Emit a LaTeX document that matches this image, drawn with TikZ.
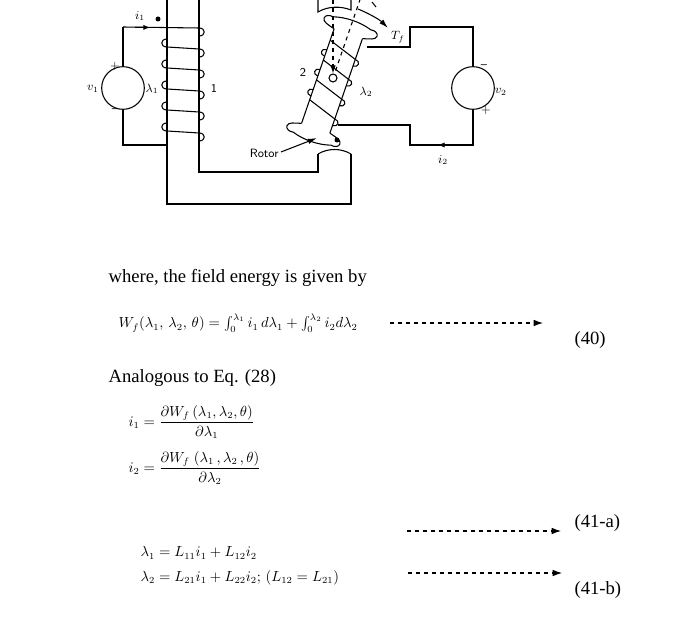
\documentclass[tikz,border=0pt]{standalone}
\usepackage{fontspec}
\setmainfont{Liberation Serif}
\usetikzlibrary{arrows.meta}
\begin{document}
\begin{tikzpicture}[x=0.75pt,y=-0.75pt,line width=0.8pt,
  lbl/.style={font=\fontsize{9}{10}\selectfont\sffamily,inner sep=0pt},
  big/.style={font=\fontsize{14}{16}\selectfont,anchor=west,inner sep=0pt},
  eq/.style={font=\fontsize{10.5}{12}\selectfont,anchor=west,inner sep=0pt},
  darr/.style={dashed,-{Latex[length=7pt,width=5pt]},line width=0.8pt},
  wire/.style={line width=0.8pt}]
\useasboundingbox (0,0) rectangle (679,630);
% stator core
\draw[wire] (167,0) -- (167,204) -- (351,204) -- (351,154);
\draw[wire] (199,0) -- (199,172) -- (318,172) -- (318,154);
\draw[wire] (318,154) .. controls (328,148) and (341,148) .. (351,154);
\draw[wire] (318,0) -- (318,12) .. controls (328,6) and (341,6) .. (351,10) -- (351,0);
% coil 1
\draw[wire] (123,27) -- (199,28);
\foreach \k in {0,...,5}{
  \draw[wire] (199,28+21*\k) .. controls (206,28+21*\k) and (206,36+21*\k) .. (199,36+21*\k);}
\foreach \k in {0,...,4}{
  \draw[wire] (167,39+21*\k) .. controls (160,39+21*\k) and (160,47+21*\k) .. (167,47+21*\k) -- (199,49+21*\k);}
% source 1
\node[circle,draw,line width=0.8pt,minimum size=32pt,inner sep=0pt] (s1) at (123,88) {};
\coordinate (a1) at (123,27);
\coordinate (b1) at (123,145);
\coordinate (c1) at (167,145);
\draw[wire] (s1.north) -- (a1);
\draw[wire] (s1.south) -- (b1) -- (c1);
\draw[-{Latex[length=5pt,width=4pt]}] (135,27.3) -- (150,27.5);
\node[lbl] at (140,16) {$i_1$};
\fill (158,19) circle (2.5);
\node[lbl] at (115,67) {+};
\node[lbl] at (115,111) {--};
\node[lbl] at (93,89) {$v_1$};
\node[lbl] at (152,89) {$\lambda_1$};
\node[lbl] at (214,88) {1};
% rotor
\begin{scope}[shift={(332,81)},rotate=-19]
  \draw[wire] (-15,-50) -- (-15,50);
  \draw[wire] (15,-50) -- (15,50);
  \draw[wire,fill=white] (-15,-50) .. controls (-22,-52) and (-28,-53) .. (-28,-57)
     .. controls (-28,-60) and (-24,-62) .. (-20,-61)
     .. controls (-8,-65) and (8,-65) .. (20,-61)
     .. controls (24,-62) and (28,-60) .. (28,-57)
     .. controls (28,-53) and (22,-52) .. (15,-50);
  \draw[wire,fill=white] (-15,50) .. controls (-22,52) and (-28,53) .. (-28,57)
     .. controls (-28,60) and (-24,62) .. (-20,61)
     .. controls (-8,65) and (8,65) .. (20,61)
     .. controls (24,62) and (28,60) .. (28,57)
     .. controls (28,53) and (22,52) .. (15,50);
  \foreach \y in {-38,-17,4,25}{
    \draw[wire] (-15,\y) -- (15,\y+10);
    \draw[wire] (15,\y+10) .. controls (21,\y+10) and (21,\y+17) .. (15,\y+17);
  }
  \foreach \y in {-28,-7,14}{
    \draw[wire] (-15,\y) .. controls (-21,\y) and (-21,\y+7) .. (-15,\y+7);
  }
  \draw[wire,dashed] (0,-3) -- (0,-95);
\end{scope}
% pivot and dashed vertical
\node[circle,draw,line width=0.8pt,fill=white,minimum size=6pt,inner sep=0pt] (pv) at (333,78) {};
\coordinate (vt) at (333,0);
\draw[wire,dashed,-{Latex[length=6pt,width=4pt]}] (vt) -- (pv.north);
% torque arrow
\draw[-{Latex[length=7pt,width=4pt]}] (358,9) .. controls (370,14) and (380,20) .. (388,28);
\draw (372,2) -- (376,7);
\node[lbl] at (398,37) {$T_f$};
\node[lbl] at (303,72) {2};
\node[lbl] at (366,92) {$\lambda_2$};
\fill (337,140) circle (2.5);
\node[lbl,anchor=east] (rl) at (279,153) {Rotor};
\draw[-{Latex[length=7pt,width=4pt]}] (rl.east) ++(2,-1) -- (317,138);
% right circuit
\node[circle,draw,line width=0.8pt,minimum size=32pt,inner sep=0pt] (s2) at (473,88) {};
\draw[wire] (367,47) -- (410,47) -- (410,27) -- (473,27) -- (s2.north);
\draw[wire] (s2.south) -- (473,145) -- (410,145) -- (410,125) -- (338,125);
\draw[-{Latex[length=5pt,width=4pt]}] (452,145) -- (438,145);
\node[lbl] at (443,160) {$i_2$};
\node[lbl] at (484,67) {--};
\node[lbl] at (486,111) {+};
\node[lbl] at (501,92) {$v_2$};
% text
\node[big] at (108,278) {where, the field energy is given by};
\node[eq] at (118,323) {$W_f(\lambda_1,\,\lambda_2,\,\theta)=\int_0^{\lambda_1} i_1\,d\lambda_1+\int_0^{\lambda_2} i_2 d\lambda_2$};
\coordinate (e1a) at (390,323); \coordinate (e1b) at (543,323);
\draw[darr] (e1a) -- (e1b);
\node[big] at (574,340) {(40)};
\node[big] at (108,378) {Analogous to Eq. (28)};
\node[eq] at (128,422) {$\displaystyle i_1=\frac{\partial W_f\,(\lambda_1,\lambda_2,\theta)}{\partial\lambda_1}$};
\node[eq] at (128,468) {$\displaystyle i_2=\frac{\partial W_f\;(\lambda_1\,,\lambda_2\,,\theta)}{\partial\lambda_2}$};
\coordinate (e2a) at (407,531); \coordinate (e2b) at (561,531);
\draw[darr] (e2a) -- (e2b);
\node[big] at (574,523) {(41-a)};
\node[eq] at (140,553) {$\lambda_1=L_{11}i_1+L_{12}i_2$};
\node[eq] at (140,578) {$\lambda_2=L_{21}i_1+L_{22}i_2;\,(L_{12}=L_{21})$};
\coordinate (e3a) at (408,573); \coordinate (e3b) at (562,573);
\draw[darr] (e3a) -- (e3b);
\node[big] at (574,590) {(41-b)};
\end{tikzpicture}
\end{document}
